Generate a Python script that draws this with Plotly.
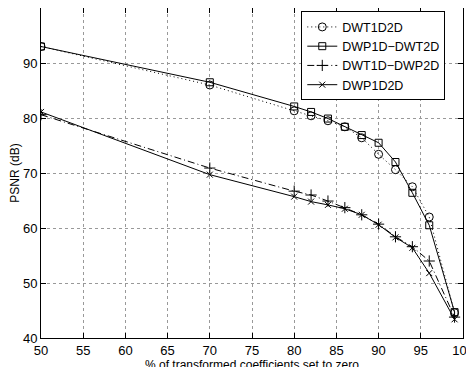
import plotly.graph_objects as go

x_vals = [50, 70, 80, 82, 84, 86, 88, 90, 92, 94, 96, 99]
dwt1d2d = [93.0, 86.0, 81.3, 80.4, 79.5, 78.4, 76.4, 73.4, 70.6, 67.5, 62.0, 44.6]
dwp1d_dwt2d = [93.0, 86.5, 82.1, 81.1, 79.9, 78.4, 76.9, 75.5, 72.0, 66.4, 60.5, 44.7]
dwt1d_dwp2d = [80.6, 70.9, 66.7, 66.0, 64.9, 63.7, 62.4, 60.7, 58.4, 56.6, 54.0, 43.8]
dwp1d2d = [81.1, 69.7, 65.7, 64.8, 64.2, 63.5, 62.4, 60.6, 58.3, 56.4, 51.8, 43.4]

x_ticks = [50, 55, 60, 65, 70, 75, 80, 85, 90, 95, 100]
y_ticks = [40, 50, 60, 70, 80, 90, 100]

FONT = "Liberation Sans, Arial"

fig = go.Figure()
fig.add_trace(go.Scatter(x=x_vals, y=dwt1d2d, name="DWT1D2D", mode="lines+markers",
                         line=dict(color="black", width=1, dash="1px,3px"),
                         marker=dict(symbol="circle-open", size=8, color="black", line=dict(width=1))))
fig.add_trace(go.Scatter(x=x_vals, y=dwp1d_dwt2d, name="DWP1D\u2212DWT2D", mode="lines+markers",
                         line=dict(color="black", width=1),
                         marker=dict(symbol="square-open", size=7, color="black", line=dict(width=1))))
fig.add_trace(go.Scatter(x=x_vals, y=dwt1d_dwp2d, name="DWT1D\u2212DWP2D", mode="lines+markers",
                         line=dict(color="black", width=1, dash="7px,3px,1px,3px"),
                         marker=dict(symbol="cross-thin-open", size=8, color="black", line=dict(width=1, color="black"))))
fig.add_trace(go.Scatter(x=x_vals, y=dwp1d2d, name="DWP1D2D", mode="lines+markers",
                         line=dict(color="black", width=1),
                         marker=dict(symbol="x-thin-open", size=6, color="black", line=dict(width=1, color="black"))))

axis_common = dict(showline=True, linecolor="black", linewidth=1, mirror="ticks",
                   ticks="inside", ticklen=5, tickcolor="black", automargin=False,
                   showgrid=True, gridcolor="#999999", griddash="dot", gridwidth=1,
                   zeroline=False, tickfont=dict(family=FONT, size=13, color="black"))

fig.update_xaxes(range=[50, 100], tickvals=x_ticks, ticktext=[str(v) for v in x_ticks],
                 **axis_common)
fig.update_yaxes(range=[40, 100], tickvals=y_ticks, ticktext=[str(v) for v in y_ticks],
                 title=dict(text="PSNR (dB)", standoff=6,
                            font=dict(family=FONT, size=12, color="black")),
                 **axis_common)

fig.add_annotation(text="% of transformed coefficients set to zero", xref="paper", yref="paper",
                   x=0.5, y=-0.055, xanchor="center", yanchor="top", showarrow=False,
                   font=dict(family=FONT, size=12, color="black"))

fig.update_layout(width=466, height=359, margin=dict(l=33, r=11, t=0, b=29),
                  plot_bgcolor="white", paper_bgcolor="white",
                  font=dict(family=FONT, color="black"),
                  legend=dict(x=0.958, y=0.99, xanchor="right", yanchor="top",
                              bgcolor="white", bordercolor="black", borderwidth=1,
                              font=dict(family=FONT, size=12.5, color="black"), tracegroupgap=0,
                              itemwidth=30))

fig.write_html("out.html")
